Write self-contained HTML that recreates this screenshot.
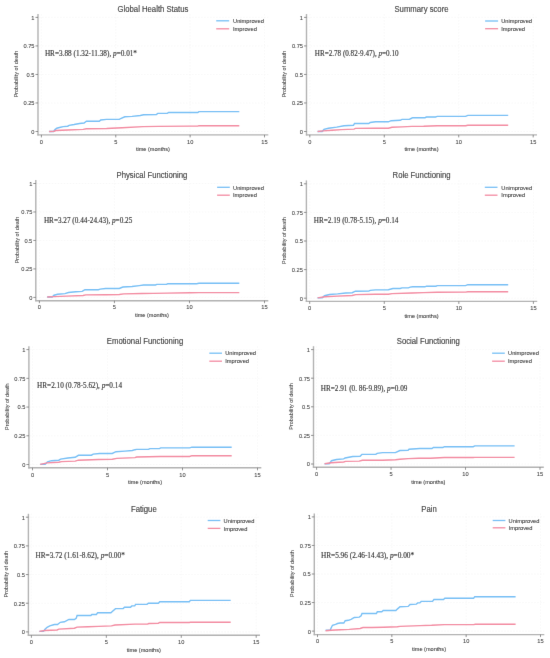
<!DOCTYPE html>
<html><head><meta charset="utf-8"><style>
html,body{margin:0;padding:0;background:#fff;}
svg{display:block;}
text{font-family:"Liberation Sans",sans-serif;stroke:#333;stroke-width:0.08px;}
.gr{stroke:#f6f6f6;stroke-width:0.8;stroke-dasharray:1.5 1.5;}
.ax{stroke:#b0b0b0;stroke-width:1.4;}
.tk{stroke:#707070;stroke-width:0.8;}
.yl{stroke-width:0.05px;font-size:5.7px;fill:#1e1e1e;text-anchor:end;}
.xl{stroke-width:0.05px;font-size:5.7px;fill:#1e1e1e;text-anchor:middle;}
.ti{font-size:8.8px;stroke:#2a2a2a;stroke-width:0.12px;fill:#2a2a2a;text-anchor:middle;}
.xt{font-size:6.2px;fill:#1e1e1e;text-anchor:middle;}
.yt{stroke-width:0.03px;font-size:6.2px;fill:#1e1e1e;text-anchor:middle;}
.lg{font-size:6.1px;fill:#1e1e1e;}
.hr{font-family:"Liberation Serif",serif;font-size:7.3px;fill:#151515;stroke:#222;stroke-width:0.12px;}
.cb{fill:none;stroke:#70bef5;stroke-width:1.4;stroke-linejoin:miter;}
.cp{fill:none;stroke:#f3879f;stroke-width:1.4;stroke-linejoin:miter;}
</style></head><body>
<svg width="550" height="658" viewBox="0 0 550 658">
<defs><filter id="bl" x="0" y="0" width="550" height="658" filterUnits="userSpaceOnUse"><feConvolveMatrix order="3" kernelMatrix="0 1 0 1 12 1 0 1 0" divisor="16" edgeMode="duplicate"/></filter></defs>
<g filter="url(#bl)"><rect x="0" y="0" width="550" height="658" fill="#fff"/>
<line x1="39" y1="131.5" x2="268.3" y2="131.5" class="gr"/>
<line x1="39" y1="102.97" x2="268.3" y2="102.97" class="gr"/>
<line x1="39" y1="74.45" x2="268.3" y2="74.45" class="gr"/>
<line x1="39" y1="45.93" x2="268.3" y2="45.93" class="gr"/>
<line x1="39" y1="17.4" x2="268.3" y2="17.4" class="gr"/>
<line x1="41.4" y1="14" x2="41.4" y2="133.9" class="gr"/>
<line x1="115.77" y1="14" x2="115.77" y2="133.9" class="gr"/>
<line x1="190.13" y1="14" x2="190.13" y2="133.9" class="gr"/>
<line x1="264.5" y1="14" x2="264.5" y2="133.9" class="gr"/>
<line x1="38" y1="14" x2="38" y2="135.5" class="ax"/>
<line x1="37.4" y1="134.9" x2="268.3" y2="134.9" class="ax"/>
<line x1="35.5" y1="131.5" x2="38" y2="131.5" class="tk"/>
<text class="yl" transform="translate(34.5 133.9) scale(1.0 1)">0</text>
<line x1="35.5" y1="102.97" x2="38" y2="102.97" class="tk"/>
<text class="yl" transform="translate(34.5 105.38) scale(1.0 1)">0.25</text>
<line x1="35.5" y1="74.45" x2="38" y2="74.45" class="tk"/>
<text class="yl" transform="translate(34.5 76.85) scale(1.0 1)">0.5</text>
<line x1="35.5" y1="45.93" x2="38" y2="45.93" class="tk"/>
<text class="yl" transform="translate(34.5 48.33) scale(1.0 1)">0.75</text>
<line x1="35.5" y1="17.4" x2="38" y2="17.4" class="tk"/>
<text class="yl" transform="translate(34.5 19.8) scale(1.0 1)">1</text>
<line x1="41.4" y1="134.9" x2="41.4" y2="137.4" class="tk"/>
<text class="xl" transform="translate(41.4 143.6) scale(1.0 1)">0</text>
<line x1="115.77" y1="134.9" x2="115.77" y2="137.4" class="tk"/>
<text class="xl" transform="translate(115.77 143.6) scale(1.0 1)">5</text>
<line x1="190.13" y1="134.9" x2="190.13" y2="137.4" class="tk"/>
<text class="xl" transform="translate(190.13 143.6) scale(1.0 1)">10</text>
<line x1="264.5" y1="134.9" x2="264.5" y2="137.4" class="tk"/>
<text class="xl" transform="translate(264.5 143.6) scale(1.0 1)">15</text>
<text class="ti" transform="translate(152.95 11.7) scale(0.88 1)">Global Health Status</text>
<text class="xt" transform="translate(152.95 151.3) scale(0.9 1)">time (months)</text>
<text class="yt" transform="translate(17.6 74.05) rotate(-90) scale(0.88 1)">Probability of death</text>
<line x1="216.2" y1="20.8" x2="229.2" y2="20.8" stroke="#70bef5" stroke-width="1.3"/>
<line x1="216.2" y1="28.8" x2="229.2" y2="28.8" stroke="#f3879f" stroke-width="1.3"/>
<text class="lg" transform="translate(233 23) scale(0.94 1)">Unimproved</text>
<text class="lg" transform="translate(233 31) scale(0.94 1)">Improved</text>
<text x="44.9" y="55.8" class="hr" textLength="92.1" lengthAdjust="spacingAndGlyphs">HR=3.88 (1.32-11.38), <tspan style="font-style:italic">p</tspan>=0.01*</text>
<path d="M49.1 131.5 L53.6 131.5 L55 129.6 L56.8 128.2 L59.5 127.5 L63.2 126.6 L67.7 126.2 L69.1 125.3 L74.1 124.5 L79.5 123.5 L84.1 123 L86.4 121.2 L99.4 121.2 L100.7 120 L106.6 119.4 L119.4 119.4 L120.7 118.5 L124.8 116.8 L132.1 116.4 L140.3 115.5 L143.6 114.7 L156.4 114.5 L157.7 113.4 L167.3 113.4 L168.6 112.5 L197.8 112.5 L198.9 111.6 L239.3 111.6" class="cb"/>
<path d="M49.1 131.5 L54.1 131.2 L55.9 130.5 L67.7 130 L83.2 129.4 L86.4 128.7 L106.6 128.5 L122.1 127.7 L143 126.6 L158.2 126.4 L190 126.1 L197.8 126.1 L198.9 125.7 L239.3 125.7" class="cp"/>
<line x1="307.5" y1="131.5" x2="537" y2="131.5" class="gr"/>
<line x1="307.5" y1="102.97" x2="537" y2="102.97" class="gr"/>
<line x1="307.5" y1="74.45" x2="537" y2="74.45" class="gr"/>
<line x1="307.5" y1="45.93" x2="537" y2="45.93" class="gr"/>
<line x1="307.5" y1="17.4" x2="537" y2="17.4" class="gr"/>
<line x1="309.8" y1="14" x2="309.8" y2="133.9" class="gr"/>
<line x1="384.27" y1="14" x2="384.27" y2="133.9" class="gr"/>
<line x1="458.73" y1="14" x2="458.73" y2="133.9" class="gr"/>
<line x1="533.2" y1="14" x2="533.2" y2="133.9" class="gr"/>
<line x1="306.5" y1="14" x2="306.5" y2="135.5" class="ax"/>
<line x1="305.9" y1="134.9" x2="537" y2="134.9" class="ax"/>
<line x1="304" y1="131.5" x2="306.5" y2="131.5" class="tk"/>
<text class="yl" transform="translate(303 133.9) scale(1.0 1)">0</text>
<line x1="304" y1="102.97" x2="306.5" y2="102.97" class="tk"/>
<text class="yl" transform="translate(303 105.38) scale(1.0 1)">0.25</text>
<line x1="304" y1="74.45" x2="306.5" y2="74.45" class="tk"/>
<text class="yl" transform="translate(303 76.85) scale(1.0 1)">0.5</text>
<line x1="304" y1="45.93" x2="306.5" y2="45.93" class="tk"/>
<text class="yl" transform="translate(303 48.33) scale(1.0 1)">0.75</text>
<line x1="304" y1="17.4" x2="306.5" y2="17.4" class="tk"/>
<text class="yl" transform="translate(303 19.8) scale(1.0 1)">1</text>
<line x1="309.8" y1="134.9" x2="309.8" y2="137.4" class="tk"/>
<text class="xl" transform="translate(309.8 143.6) scale(1.0 1)">0</text>
<line x1="384.27" y1="134.9" x2="384.27" y2="137.4" class="tk"/>
<text class="xl" transform="translate(384.27 143.6) scale(1.0 1)">5</text>
<line x1="458.73" y1="134.9" x2="458.73" y2="137.4" class="tk"/>
<text class="xl" transform="translate(458.73 143.6) scale(1.0 1)">10</text>
<line x1="533.2" y1="134.9" x2="533.2" y2="137.4" class="tk"/>
<text class="xl" transform="translate(533.2 143.6) scale(1.0 1)">15</text>
<text class="ti" transform="translate(421.5 11.7) scale(0.88 1)">Summary score</text>
<text class="xt" transform="translate(421.5 151.3) scale(0.9 1)">time (months)</text>
<text class="yt" transform="translate(286.3 74.05) rotate(-90) scale(0.88 1)">Probability of death</text>
<line x1="485.1" y1="21" x2="498.1" y2="21" stroke="#70bef5" stroke-width="1.3"/>
<line x1="485.1" y1="28.7" x2="498.1" y2="28.7" stroke="#f3879f" stroke-width="1.3"/>
<text class="lg" transform="translate(501.2 23.2) scale(0.94 1)">Unimproved</text>
<text class="lg" transform="translate(501.2 30.9) scale(0.94 1)">Improved</text>
<text x="314.8" y="55.7" class="hr" textLength="83.7" lengthAdjust="spacingAndGlyphs">HR=2.78 (0.82-9.47), <tspan style="font-style:italic">p</tspan>=0.10</text>
<path d="M317.6 131.5 L322.2 131.5 L324 129.4 L328.5 128.2 L336.7 127.1 L344 125.7 L353.5 125.3 L354.5 123.5 L368.8 123.5 L370.2 122.5 L375.6 121.8 L388.4 121.8 L391.1 120.7 L400.2 120.3 L402 119.4 L409.3 119.4 L411.1 118.5 L412.7 117.7 L425 117.7 L426.4 117 L435.5 117 L437.3 116.4 L465.6 116.4 L467.8 115.4 L508.2 115.4" class="cb"/>
<path d="M317.6 131.5 L323.1 130.9 L332.2 130.3 L341.3 129.6 L354 129.1 L355.4 128.4 L375.6 128.2 L388.4 128.2 L392 127.3 L402 126.9 L412 126.4 L423.6 126.3 L437.3 125.7 L465.6 125.7 L467.8 125.2 L508.2 125.2" class="cp"/>
<line x1="36.8" y1="297.4" x2="268.3" y2="297.4" class="gr"/>
<line x1="36.8" y1="268.92" x2="268.3" y2="268.92" class="gr"/>
<line x1="36.8" y1="240.45" x2="268.3" y2="240.45" class="gr"/>
<line x1="36.8" y1="211.97" x2="268.3" y2="211.97" class="gr"/>
<line x1="36.8" y1="183.5" x2="268.3" y2="183.5" class="gr"/>
<line x1="39.4" y1="180.1" x2="39.4" y2="299.7" class="gr"/>
<line x1="114.43" y1="180.1" x2="114.43" y2="299.7" class="gr"/>
<line x1="189.47" y1="180.1" x2="189.47" y2="299.7" class="gr"/>
<line x1="264.5" y1="180.1" x2="264.5" y2="299.7" class="gr"/>
<line x1="35.8" y1="180.1" x2="35.8" y2="301.3" class="ax"/>
<line x1="35.2" y1="300.7" x2="268.3" y2="300.7" class="ax"/>
<line x1="33.3" y1="297.4" x2="35.8" y2="297.4" class="tk"/>
<text class="yl" transform="translate(32.3 299.8) scale(1.0 1)">0</text>
<line x1="33.3" y1="268.92" x2="35.8" y2="268.92" class="tk"/>
<text class="yl" transform="translate(32.3 271.32) scale(1.0 1)">0.25</text>
<line x1="33.3" y1="240.45" x2="35.8" y2="240.45" class="tk"/>
<text class="yl" transform="translate(32.3 242.85) scale(1.0 1)">0.5</text>
<line x1="33.3" y1="211.97" x2="35.8" y2="211.97" class="tk"/>
<text class="yl" transform="translate(32.3 214.38) scale(1.0 1)">0.75</text>
<line x1="33.3" y1="183.5" x2="35.8" y2="183.5" class="tk"/>
<text class="yl" transform="translate(32.3 185.9) scale(1.0 1)">1</text>
<line x1="39.4" y1="300.7" x2="39.4" y2="303.2" class="tk"/>
<text class="xl" transform="translate(39.4 309.4) scale(1.0 1)">0</text>
<line x1="114.43" y1="300.7" x2="114.43" y2="303.2" class="tk"/>
<text class="xl" transform="translate(114.43 309.4) scale(1.0 1)">5</text>
<line x1="189.47" y1="300.7" x2="189.47" y2="303.2" class="tk"/>
<text class="xl" transform="translate(189.47 309.4) scale(1.0 1)">10</text>
<line x1="264.5" y1="300.7" x2="264.5" y2="303.2" class="tk"/>
<text class="xl" transform="translate(264.5 309.4) scale(1.0 1)">15</text>
<text class="ti" transform="translate(151.95 177.8) scale(0.88 1)">Physical Functioning</text>
<text class="xt" transform="translate(151.95 317.1) scale(0.9 1)">time (months)</text>
<text class="yt" transform="translate(18.8 240.05) rotate(-90) scale(0.88 1)">Probability of death</text>
<line x1="217.1" y1="187.3" x2="229.8" y2="187.3" stroke="#70bef5" stroke-width="1.3"/>
<line x1="217.1" y1="195.2" x2="229.8" y2="195.2" stroke="#f3879f" stroke-width="1.3"/>
<text class="lg" transform="translate(233 189.5) scale(0.94 1)">Unimproved</text>
<text class="lg" transform="translate(233 197.4) scale(0.94 1)">Improved</text>
<text x="43.9" y="222.7" class="hr" textLength="88.4" lengthAdjust="spacingAndGlyphs">HR=3.27 (0.44-24.43), <tspan style="font-style:italic">p</tspan>=0.25</text>
<path d="M47.2 297 L52.2 297 L54 295.2 L57.6 294.3 L64.9 293.6 L68.5 292.5 L75.8 291.8 L82.2 291.4 L84.9 289.7 L98.4 289.7 L100.2 289.1 L105.6 288.5 L119.3 288.5 L122.9 287 L132 286.5 L139.3 285.6 L143.6 285 L155.5 285 L156.8 284.4 L166.4 284.4 L167.7 283.8 L196.7 283.8 L198.9 283.3 L239.3 283.3" class="cb"/>
<path d="M47.2 297 L54 296.6 L66.7 296.1 L83.1 295.5 L85.8 294.9 L105.6 294.7 L119.3 294.5 L123.8 293.9 L142 293.5 L153.6 293.4 L167.3 293.1 L190 292.8 L198.9 292.6 L239.3 292.6" class="cp"/>
<line x1="307.4" y1="298.2" x2="537.2" y2="298.2" class="gr"/>
<line x1="307.4" y1="269.6" x2="537.2" y2="269.6" class="gr"/>
<line x1="307.4" y1="241" x2="537.2" y2="241" class="gr"/>
<line x1="307.4" y1="212.4" x2="537.2" y2="212.4" class="gr"/>
<line x1="307.4" y1="183.8" x2="537.2" y2="183.8" class="gr"/>
<line x1="309.7" y1="180.4" x2="309.7" y2="300.4" class="gr"/>
<line x1="384.27" y1="180.4" x2="384.27" y2="300.4" class="gr"/>
<line x1="458.83" y1="180.4" x2="458.83" y2="300.4" class="gr"/>
<line x1="533.4" y1="180.4" x2="533.4" y2="300.4" class="gr"/>
<line x1="306.4" y1="180.4" x2="306.4" y2="302" class="ax"/>
<line x1="305.8" y1="301.4" x2="537.2" y2="301.4" class="ax"/>
<line x1="303.9" y1="298.2" x2="306.4" y2="298.2" class="tk"/>
<text class="yl" transform="translate(302.9 300.6) scale(1.0 1)">0</text>
<line x1="303.9" y1="269.6" x2="306.4" y2="269.6" class="tk"/>
<text class="yl" transform="translate(302.9 272) scale(1.0 1)">0.25</text>
<line x1="303.9" y1="241" x2="306.4" y2="241" class="tk"/>
<text class="yl" transform="translate(302.9 243.4) scale(1.0 1)">0.5</text>
<line x1="303.9" y1="212.4" x2="306.4" y2="212.4" class="tk"/>
<text class="yl" transform="translate(302.9 214.8) scale(1.0 1)">0.75</text>
<line x1="303.9" y1="183.8" x2="306.4" y2="183.8" class="tk"/>
<text class="yl" transform="translate(302.9 186.2) scale(1.0 1)">1</text>
<line x1="309.7" y1="301.4" x2="309.7" y2="303.9" class="tk"/>
<text class="xl" transform="translate(309.7 310.1) scale(1.0 1)">0</text>
<line x1="384.27" y1="301.4" x2="384.27" y2="303.9" class="tk"/>
<text class="xl" transform="translate(384.27 310.1) scale(1.0 1)">5</text>
<line x1="458.83" y1="301.4" x2="458.83" y2="303.9" class="tk"/>
<text class="xl" transform="translate(458.83 310.1) scale(1.0 1)">10</text>
<line x1="533.4" y1="301.4" x2="533.4" y2="303.9" class="tk"/>
<text class="xl" transform="translate(533.4 310.1) scale(1.0 1)">15</text>
<text class="ti" transform="translate(421.55 177.8) scale(0.88 1)">Role Functioning</text>
<text class="xt" transform="translate(421.55 317.8) scale(0.9 1)">time (months)</text>
<text class="yt" transform="translate(286.3 240.6) rotate(-90) scale(0.88 1)">Probability of death</text>
<line x1="484.8" y1="187.3" x2="497.5" y2="187.3" stroke="#70bef5" stroke-width="1.3"/>
<line x1="484.8" y1="195.2" x2="497.5" y2="195.2" stroke="#f3879f" stroke-width="1.3"/>
<text class="lg" transform="translate(501.3 189.5) scale(0.94 1)">Unimproved</text>
<text class="lg" transform="translate(501.3 197.4) scale(0.94 1)">Improved</text>
<text x="313.7" y="222.7" class="hr" textLength="84.7" lengthAdjust="spacingAndGlyphs">HR=2.19 (0.78-5.15), <tspan style="font-style:italic">p</tspan>=0.14</text>
<path d="M317.6 297.7 L322.2 297.7 L324.5 295.7 L329.5 294.5 L337.6 293.9 L345.8 293 L352.2 292.7 L355.4 291.2 L368.8 291.1 L370.2 290.4 L375.6 289.9 L388.4 289.7 L392.9 288.5 L400.2 288.5 L402 287.9 L408.4 287.9 L410.2 287.1 L412.7 286.8 L425 286.8 L426.4 286.2 L435.9 286.2 L437.3 285.6 L465.6 285.6 L467.8 284.7 L508.2 284.7" class="cb"/>
<path d="M317.6 297.9 L325 296.8 L337.6 296.1 L352.2 295.5 L355.8 294.6 L375.6 294.3 L388.4 294.2 L392 293.6 L412 293 L423.6 292.6 L437.3 292.2 L465.6 292.1 L467.8 291.8 L508.2 291.8" class="cp"/>
<line x1="29.9" y1="464.5" x2="261.3" y2="464.5" class="gr"/>
<line x1="29.9" y1="435.77" x2="261.3" y2="435.77" class="gr"/>
<line x1="29.9" y1="407.05" x2="261.3" y2="407.05" class="gr"/>
<line x1="29.9" y1="378.33" x2="261.3" y2="378.33" class="gr"/>
<line x1="29.9" y1="349.6" x2="261.3" y2="349.6" class="gr"/>
<line x1="32.5" y1="346.2" x2="32.5" y2="466.8" class="gr"/>
<line x1="107.5" y1="346.2" x2="107.5" y2="466.8" class="gr"/>
<line x1="182.5" y1="346.2" x2="182.5" y2="466.8" class="gr"/>
<line x1="257.5" y1="346.2" x2="257.5" y2="466.8" class="gr"/>
<line x1="28.9" y1="346.2" x2="28.9" y2="468.4" class="ax"/>
<line x1="28.3" y1="467.8" x2="261.3" y2="467.8" class="ax"/>
<line x1="26.4" y1="464.5" x2="28.9" y2="464.5" class="tk"/>
<text class="yl" transform="translate(25.4 466.9) scale(1.0 1)">0</text>
<line x1="26.4" y1="435.77" x2="28.9" y2="435.77" class="tk"/>
<text class="yl" transform="translate(25.4 438.17) scale(1.0 1)">0.25</text>
<line x1="26.4" y1="407.05" x2="28.9" y2="407.05" class="tk"/>
<text class="yl" transform="translate(25.4 409.45) scale(1.0 1)">0.5</text>
<line x1="26.4" y1="378.33" x2="28.9" y2="378.33" class="tk"/>
<text class="yl" transform="translate(25.4 380.73) scale(1.0 1)">0.75</text>
<line x1="26.4" y1="349.6" x2="28.9" y2="349.6" class="tk"/>
<text class="yl" transform="translate(25.4 352) scale(1.0 1)">1</text>
<line x1="32.5" y1="467.8" x2="32.5" y2="470.3" class="tk"/>
<text class="xl" transform="translate(32.5 476.5) scale(1.0 1)">0</text>
<line x1="107.5" y1="467.8" x2="107.5" y2="470.3" class="tk"/>
<text class="xl" transform="translate(107.5 476.5) scale(1.0 1)">5</text>
<line x1="182.5" y1="467.8" x2="182.5" y2="470.3" class="tk"/>
<text class="xl" transform="translate(182.5 476.5) scale(1.0 1)">10</text>
<line x1="257.5" y1="467.8" x2="257.5" y2="470.3" class="tk"/>
<text class="xl" transform="translate(257.5 476.5) scale(1.0 1)">15</text>
<text class="ti" transform="translate(145 343.8) scale(0.88 1)">Emotional Functioning</text>
<text class="xt" transform="translate(145 484.2) scale(0.9 1)">time (months)</text>
<text class="yt" transform="translate(8.8 406.65) rotate(-90) scale(0.88 1)">Probability of death</text>
<line x1="209.3" y1="353.2" x2="222" y2="353.2" stroke="#70bef5" stroke-width="1.3"/>
<line x1="209.3" y1="361.2" x2="222" y2="361.2" stroke="#f3879f" stroke-width="1.3"/>
<text class="lg" transform="translate(225.2 355.4) scale(0.94 1)">Unimproved</text>
<text class="lg" transform="translate(225.2 363.4) scale(0.94 1)">Improved</text>
<text x="37.1" y="388" class="hr" textLength="84.9" lengthAdjust="spacingAndGlyphs">HR=2.10 (0.78-5.62), <tspan style="font-style:italic">p</tspan>=0.14</text>
<path d="M40.2 464.4 L45.2 464.4 L47.5 461.8 L51.5 460.7 L58.8 460.2 L60.6 459.1 L67.9 458 L75.2 457.3 L78.4 455.3 L91.4 455.2 L93.2 454.1 L99.5 453.5 L112.3 453.5 L115.9 451.7 L125 451.1 L132.3 450.5 L135 449.7 L136.6 449.4 L148.5 449.4 L149.8 448.6 L159.4 448.6 L160.7 447.9 L189.7 447.9 L191.9 447.2 L231.7 447.2" class="cb"/>
<path d="M40.2 464.4 L47 462.9 L58.8 462.3 L61.5 461.6 L75.2 461.1 L78.4 460.2 L98.6 459.5 L112.3 459.3 L116.8 458.4 L135 457.6 L136.6 457 L148.5 456.8 L160.3 456.5 L189.7 456.5 L191.9 455.7 L231.7 455.7" class="cp"/>
<line x1="314.5" y1="464" x2="543.8" y2="464" class="gr"/>
<line x1="314.5" y1="435.4" x2="543.8" y2="435.4" class="gr"/>
<line x1="314.5" y1="406.8" x2="543.8" y2="406.8" class="gr"/>
<line x1="314.5" y1="378.2" x2="543.8" y2="378.2" class="gr"/>
<line x1="314.5" y1="349.6" x2="543.8" y2="349.6" class="gr"/>
<line x1="316.6" y1="346.2" x2="316.6" y2="466.3" class="gr"/>
<line x1="391.07" y1="346.2" x2="391.07" y2="466.3" class="gr"/>
<line x1="465.53" y1="346.2" x2="465.53" y2="466.3" class="gr"/>
<line x1="540" y1="346.2" x2="540" y2="466.3" class="gr"/>
<line x1="313.5" y1="346.2" x2="313.5" y2="467.9" class="ax"/>
<line x1="312.9" y1="467.3" x2="543.8" y2="467.3" class="ax"/>
<line x1="311" y1="464" x2="313.5" y2="464" class="tk"/>
<text class="yl" transform="translate(310 466.4) scale(1.0 1)">0</text>
<line x1="311" y1="435.4" x2="313.5" y2="435.4" class="tk"/>
<text class="yl" transform="translate(310 437.8) scale(1.0 1)">0.25</text>
<line x1="311" y1="406.8" x2="313.5" y2="406.8" class="tk"/>
<text class="yl" transform="translate(310 409.2) scale(1.0 1)">0.5</text>
<line x1="311" y1="378.2" x2="313.5" y2="378.2" class="tk"/>
<text class="yl" transform="translate(310 380.6) scale(1.0 1)">0.75</text>
<line x1="311" y1="349.6" x2="313.5" y2="349.6" class="tk"/>
<text class="yl" transform="translate(310 352) scale(1.0 1)">1</text>
<line x1="316.6" y1="467.3" x2="316.6" y2="469.8" class="tk"/>
<text class="xl" transform="translate(316.6 476) scale(1.0 1)">0</text>
<line x1="391.07" y1="467.3" x2="391.07" y2="469.8" class="tk"/>
<text class="xl" transform="translate(391.07 476) scale(1.0 1)">5</text>
<line x1="465.53" y1="467.3" x2="465.53" y2="469.8" class="tk"/>
<text class="xl" transform="translate(465.53 476) scale(1.0 1)">10</text>
<line x1="540" y1="467.3" x2="540" y2="469.8" class="tk"/>
<text class="xl" transform="translate(540 476) scale(1.0 1)">15</text>
<text class="ti" transform="translate(428.3 343.8) scale(0.88 1)">Social Functioning</text>
<text class="xt" transform="translate(428.3 483.7) scale(0.9 1)">time (months)</text>
<text class="yt" transform="translate(293 406.4) rotate(-90) scale(0.88 1)">Probability of death</text>
<line x1="492.1" y1="353.2" x2="504.8" y2="353.2" stroke="#70bef5" stroke-width="1.3"/>
<line x1="492.1" y1="361.2" x2="504.8" y2="361.2" stroke="#f3879f" stroke-width="1.3"/>
<text class="lg" transform="translate(508 355.4) scale(0.94 1)">Unimproved</text>
<text class="lg" transform="translate(508 363.4) scale(0.94 1)">Improved</text>
<text x="320.7" y="390.9" class="hr" textLength="86.7" lengthAdjust="spacingAndGlyphs">HR=2.91 (0. 86-9.89), <tspan style="font-style:italic">p</tspan>=0.09</text>
<path d="M324.6 463.8 L329.2 463.8 L331.5 460.7 L336.5 459.5 L343.7 458.9 L345.1 458 L352.8 456.5 L360.1 456.2 L361.9 454.4 L375.8 454.4 L377.2 453.4 L382.6 452.6 L395.4 452.6 L399.9 450.5 L408.1 450.2 L409 449.3 L416.3 448.8 L419.7 448.5 L432 448.5 L433.4 447.5 L442.9 447.5 L444.3 446.7 L473.2 446.7 L474.8 445.9 L514.6 445.9" class="cb"/>
<path d="M324.6 463.8 L331 462.7 L343.7 462 L345.5 461.4 L359.2 461.1 L362.4 460.3 L382.6 460.2 L395.4 459.7 L399.9 459.3 L408.1 458.6 L419 458.3 L430.6 458.2 L444.3 457.5 L473.2 457.5 L474.8 457.4 L514.6 457.4" class="cp"/>
<line x1="29.4" y1="631.9" x2="260" y2="631.9" class="gr"/>
<line x1="29.4" y1="603.23" x2="260" y2="603.23" class="gr"/>
<line x1="29.4" y1="574.55" x2="260" y2="574.55" class="gr"/>
<line x1="29.4" y1="545.88" x2="260" y2="545.88" class="gr"/>
<line x1="29.4" y1="517.2" x2="260" y2="517.2" class="gr"/>
<line x1="31.4" y1="513.8" x2="31.4" y2="634.3" class="gr"/>
<line x1="106.33" y1="513.8" x2="106.33" y2="634.3" class="gr"/>
<line x1="181.27" y1="513.8" x2="181.27" y2="634.3" class="gr"/>
<line x1="256.2" y1="513.8" x2="256.2" y2="634.3" class="gr"/>
<line x1="28.4" y1="513.8" x2="28.4" y2="635.9" class="ax"/>
<line x1="27.8" y1="635.3" x2="260" y2="635.3" class="ax"/>
<line x1="25.9" y1="631.9" x2="28.4" y2="631.9" class="tk"/>
<text class="yl" transform="translate(24.9 634.3) scale(1.0 1)">0</text>
<line x1="25.9" y1="603.23" x2="28.4" y2="603.23" class="tk"/>
<text class="yl" transform="translate(24.9 605.62) scale(1.0 1)">0.25</text>
<line x1="25.9" y1="574.55" x2="28.4" y2="574.55" class="tk"/>
<text class="yl" transform="translate(24.9 576.95) scale(1.0 1)">0.5</text>
<line x1="25.9" y1="545.88" x2="28.4" y2="545.88" class="tk"/>
<text class="yl" transform="translate(24.9 548.27) scale(1.0 1)">0.75</text>
<line x1="25.9" y1="517.2" x2="28.4" y2="517.2" class="tk"/>
<text class="yl" transform="translate(24.9 519.6) scale(1.0 1)">1</text>
<line x1="31.4" y1="635.3" x2="31.4" y2="637.8" class="tk"/>
<text class="xl" transform="translate(31.4 644) scale(1.0 1)">0</text>
<line x1="106.33" y1="635.3" x2="106.33" y2="637.8" class="tk"/>
<text class="xl" transform="translate(106.33 644) scale(1.0 1)">5</text>
<line x1="181.27" y1="635.3" x2="181.27" y2="637.8" class="tk"/>
<text class="xl" transform="translate(181.27 644) scale(1.0 1)">10</text>
<line x1="256.2" y1="635.3" x2="256.2" y2="637.8" class="tk"/>
<text class="xl" transform="translate(256.2 644) scale(1.0 1)">15</text>
<text class="ti" transform="translate(143.8 511.6) scale(0.88 1)">Fatigue</text>
<text class="xt" transform="translate(143.8 651.7) scale(0.9 1)">time (months)</text>
<text class="yt" transform="translate(8 574.15) rotate(-90) scale(0.88 1)">Probability of death</text>
<line x1="207.7" y1="520.5" x2="220.4" y2="520.5" stroke="#70bef5" stroke-width="1.3"/>
<line x1="207.7" y1="528.4" x2="220.4" y2="528.4" stroke="#f3879f" stroke-width="1.3"/>
<text class="lg" transform="translate(223.6 522.7) scale(0.94 1)">Unimproved</text>
<text class="lg" transform="translate(223.6 530.6) scale(0.94 1)">Improved</text>
<text x="35.5" y="558.1" class="hr" textLength="89.3" lengthAdjust="spacingAndGlyphs">HR=3.72 (1.61-8.62), <tspan style="font-style:italic">p</tspan>=0.00*</text>
<path d="M39.4 631.4 L43.5 631.4 L44.8 629.5 L47.1 627.3 L49.8 625.9 L54.4 624.5 L57.5 624.5 L60.3 622.3 L64.4 621.8 L68.9 619.5 L74.4 619.5 L76.2 618.2 L77.1 615.5 L90.9 615.5 L91.8 614.5 L96.4 614.5 L97.7 612.7 L110.9 612.7 L112.3 611.4 L115.5 608.6 L123.2 608.6 L124.5 607.3 L130.5 607.3 L131.8 605.9 L134.7 605.9 L135.6 604.4 L147 604.4 L148.4 603.2 L158.4 603.2 L159.7 601.8 L189.3 601.8 L190.4 600.4 L230.7 600.4" class="cb"/>
<path d="M39.4 631.4 L44.8 630.5 L57.1 630 L58.9 629.1 L74.4 628.2 L77.1 627.1 L88 626.8 L98.6 626.4 L111.4 625.9 L115 625 L135 624.1 L147.5 624.1 L148.8 623.5 L158.4 623.2 L159.7 622.5 L189.3 622.5 L190.4 622.2 L230.7 622.2" class="cp"/>
<line x1="315.3" y1="631.1" x2="544.3" y2="631.1" class="gr"/>
<line x1="315.3" y1="602.55" x2="544.3" y2="602.55" class="gr"/>
<line x1="315.3" y1="574" x2="544.3" y2="574" class="gr"/>
<line x1="315.3" y1="545.45" x2="544.3" y2="545.45" class="gr"/>
<line x1="315.3" y1="516.9" x2="544.3" y2="516.9" class="gr"/>
<line x1="317.5" y1="513.5" x2="317.5" y2="633.6" class="gr"/>
<line x1="391.83" y1="513.5" x2="391.83" y2="633.6" class="gr"/>
<line x1="466.17" y1="513.5" x2="466.17" y2="633.6" class="gr"/>
<line x1="540.5" y1="513.5" x2="540.5" y2="633.6" class="gr"/>
<line x1="314.3" y1="513.5" x2="314.3" y2="635.2" class="ax"/>
<line x1="313.7" y1="634.6" x2="544.3" y2="634.6" class="ax"/>
<line x1="311.8" y1="631.1" x2="314.3" y2="631.1" class="tk"/>
<text class="yl" transform="translate(310.8 633.5) scale(1.0 1)">0</text>
<line x1="311.8" y1="602.55" x2="314.3" y2="602.55" class="tk"/>
<text class="yl" transform="translate(310.8 604.95) scale(1.0 1)">0.25</text>
<line x1="311.8" y1="574" x2="314.3" y2="574" class="tk"/>
<text class="yl" transform="translate(310.8 576.4) scale(1.0 1)">0.5</text>
<line x1="311.8" y1="545.45" x2="314.3" y2="545.45" class="tk"/>
<text class="yl" transform="translate(310.8 547.85) scale(1.0 1)">0.75</text>
<line x1="311.8" y1="516.9" x2="314.3" y2="516.9" class="tk"/>
<text class="yl" transform="translate(310.8 519.3) scale(1.0 1)">1</text>
<line x1="317.5" y1="634.6" x2="317.5" y2="637.1" class="tk"/>
<text class="xl" transform="translate(317.5 643.3) scale(1.0 1)">0</text>
<line x1="391.83" y1="634.6" x2="391.83" y2="637.1" class="tk"/>
<text class="xl" transform="translate(391.83 643.3) scale(1.0 1)">5</text>
<line x1="466.17" y1="634.6" x2="466.17" y2="637.1" class="tk"/>
<text class="xl" transform="translate(466.17 643.3) scale(1.0 1)">10</text>
<line x1="540.5" y1="634.6" x2="540.5" y2="637.1" class="tk"/>
<text class="xl" transform="translate(540.5 643.3) scale(1.0 1)">15</text>
<text class="ti" transform="translate(429 511.6) scale(0.88 1)">Pain</text>
<text class="xt" transform="translate(429 651) scale(0.9 1)">time (months)</text>
<text class="yt" transform="translate(293.8 573.6) rotate(-90) scale(0.88 1)">Probability of death</text>
<line x1="492.7" y1="520.5" x2="505.4" y2="520.5" stroke="#70bef5" stroke-width="1.3"/>
<line x1="492.7" y1="527.8" x2="505.4" y2="527.8" stroke="#f3879f" stroke-width="1.3"/>
<text class="lg" transform="translate(508.6 522.7) scale(0.94 1)">Unimproved</text>
<text class="lg" transform="translate(508.6 530) scale(0.94 1)">Improved</text>
<text x="320.9" y="558" class="hr" textLength="93.2" lengthAdjust="spacingAndGlyphs">HR=5.96 (2.46-14.43), <tspan style="font-style:italic">p</tspan>=0.00*</text>
<path d="M325.6 630.3 L330.2 630.3 L331.1 628 L332.5 625.3 L335.6 624.4 L337.5 623.5 L340.2 623 L343.8 623 L345.2 620.7 L348.4 620.3 L351.1 619.4 L354.3 617.5 L359.3 617.1 L361.1 615.7 L362 613.5 L376.4 613.5 L377.3 611.8 L381.8 611.8 L383.2 610.5 L395.9 610.5 L397.3 609.1 L400 606.8 L408.2 606.4 L410 604.5 L416.4 604.1 L417.7 602.9 L419.8 602.9 L421.2 601.4 L432.5 601.4 L433.9 599.5 L443.5 599.5 L444.8 598.3 L473.6 598.3 L474.7 596.7 L515.6 596.7" class="cb"/>
<path d="M325.6 630.7 L331.1 630.3 L340.2 629.8 L349.3 629.4 L360.2 628.5 L362.9 627.5 L372 627.5 L383.6 627.3 L397.3 626.8 L400 626.4 L420 625.6 L431.6 625.3 L444.4 624.6 L473.6 624.6 L475.3 624.2 L515.6 624.2" class="cp"/>
</g></svg>
</body></html>
